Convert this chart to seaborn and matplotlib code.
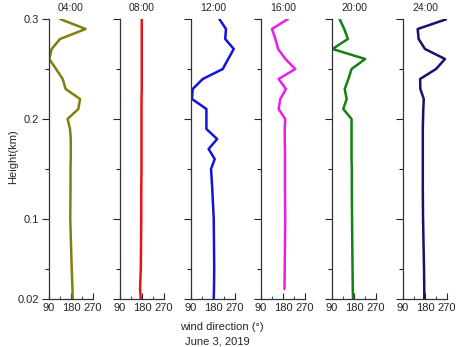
import numpy as np
import pandas as pd
import matplotlib
matplotlib.use("Agg")
import matplotlib.pyplot as plt
import seaborn as sns

times = ["04:00", "08:00", "12:00", "16:00", "20:00", "24:00"]
heights = [0.02, 0.03, 0.05, 0.10, 0.13, 0.15, 0.16, 0.17, 0.18, 0.19, 0.20,
           0.21, 0.22, 0.23, 0.24, 0.25, 0.26, 0.27, 0.28, 0.29, 0.30]
dir_0400 = [187, 186, 183, 177, 178, 178, 179, 179, 179, 176, 166,
            210, 217, 158, 146, 119, 91, 101, 135, 240, 135]
dir_0800 = [175, 172, 175, 177, 177, 178, 178, 178, 178, 178, 178,
            178, 178, 179, 179, 179, 179, 179, 179, 179, 179]
dir_1200 = [183, 184, 185, 183, 177, 172, 187, 162, 197, 153, 153,
            153, 94, 97, 138, 220, 242, 265, 230, 233, 206]
dir_1600 = [np.nan, 186, 187, 189, 188, 188, 188, 188, 187, 187, 189,
            162, 169, 192, 162, 230, 190, 160, 149, 135, 200]
dir_2000 = [176, 175, 174, 172, 171, 171, 170, 170, 170, 170, 170,
            136, 150, 142, 157, 170, 226, 92, 155, 140, 121]
dir_2400 = [177, 177, 176, 172, 171, 171, 171, 171, 171, 171, 172,
            173, 175, 161, 160, 225, 262, 180, 154, 150, 270]
series = [dir_0400, dir_0800, dir_1200, dir_1600, dir_2000, dir_2400]
colors = ["#7f7f10", "#e81414", "#1414d8", "#e81ee8", "#128212", "#14146e"]

x_ticks = [90, 180, 270]
y_ticks = [0.02, 0.1, 0.2, 0.3]
y_ticklabels = ["0.02", "0.1", "0.2", "0.3"]

sns.set_style("ticks")
plt.rcParams["font.family"] = ["Liberation Sans", "DejaVu Sans"]

W, H = 474, 347
fig = plt.figure(figsize=(W / 100, H / 100), dpi=100)
lefts = [49, 120, 191, 261, 332, 403]
ax_w = 44
top_px, bot_px = 19, 299

for i, (t, vals, c) in enumerate(zip(times, series, colors)):
    ax = fig.add_axes([lefts[i] / W, 1 - bot_px / H, ax_w / W, (bot_px - top_px) / H])
    df = pd.DataFrame({"height": heights, "dir": vals}).dropna()
    sns.lineplot(data=df, x="dir", y="height", sort=False, estimator=None,
                 color=c, lw=1.8, ax=ax)
    ax.set_xlim(90, 270)
    ax.set_ylim(0.02, 0.3)
    ax.set_xticks(x_ticks)
    ax.set_xticks([135, 225], minor=True)
    ax.set_yticks(y_ticks)
    ax.set_yticks([0.05, 0.15, 0.25], minor=True)
    ax.tick_params(axis="x", direction="in", length=4, width=0.8, labelsize=8, pad=3)
    ax.tick_params(axis="x", which="minor", direction="in", length=2, width=0.6)
    ax.tick_params(axis="y", direction="out", length=5, width=0.8, labelsize=8, pad=2)
    ax.tick_params(axis="y", which="minor", direction="out", length=3, width=0.8)
    if i == 0:
        ax.set_yticklabels(y_ticklabels)
        ax.set_ylabel("Height(km)", fontsize=8)
        ax.yaxis.set_label_coords((18 - lefts[0]) / ax_w, 0.51)
    else:
        ax.set_yticklabels([])
        ax.set_ylabel("")
    ax.set_xlabel("")
    ax.set_title(t, fontsize=7.5, pad=6)
    for s in ["top", "right"]:
        ax.spines[s].set_visible(False)
    for s in ["left", "bottom"]:
        ax.spines[s].set_color("#333333")
        ax.spines[s].set_linewidth(0.9)

fig.text(222 / W, 1 - 327 / H, "wind direction (°)", ha="center", va="center", fontsize=8)
fig.text(217 / W, 1 - 341 / H, "June 3, 2019", ha="center", va="center", fontsize=8)

fig.savefig("out.png", dpi=100)
